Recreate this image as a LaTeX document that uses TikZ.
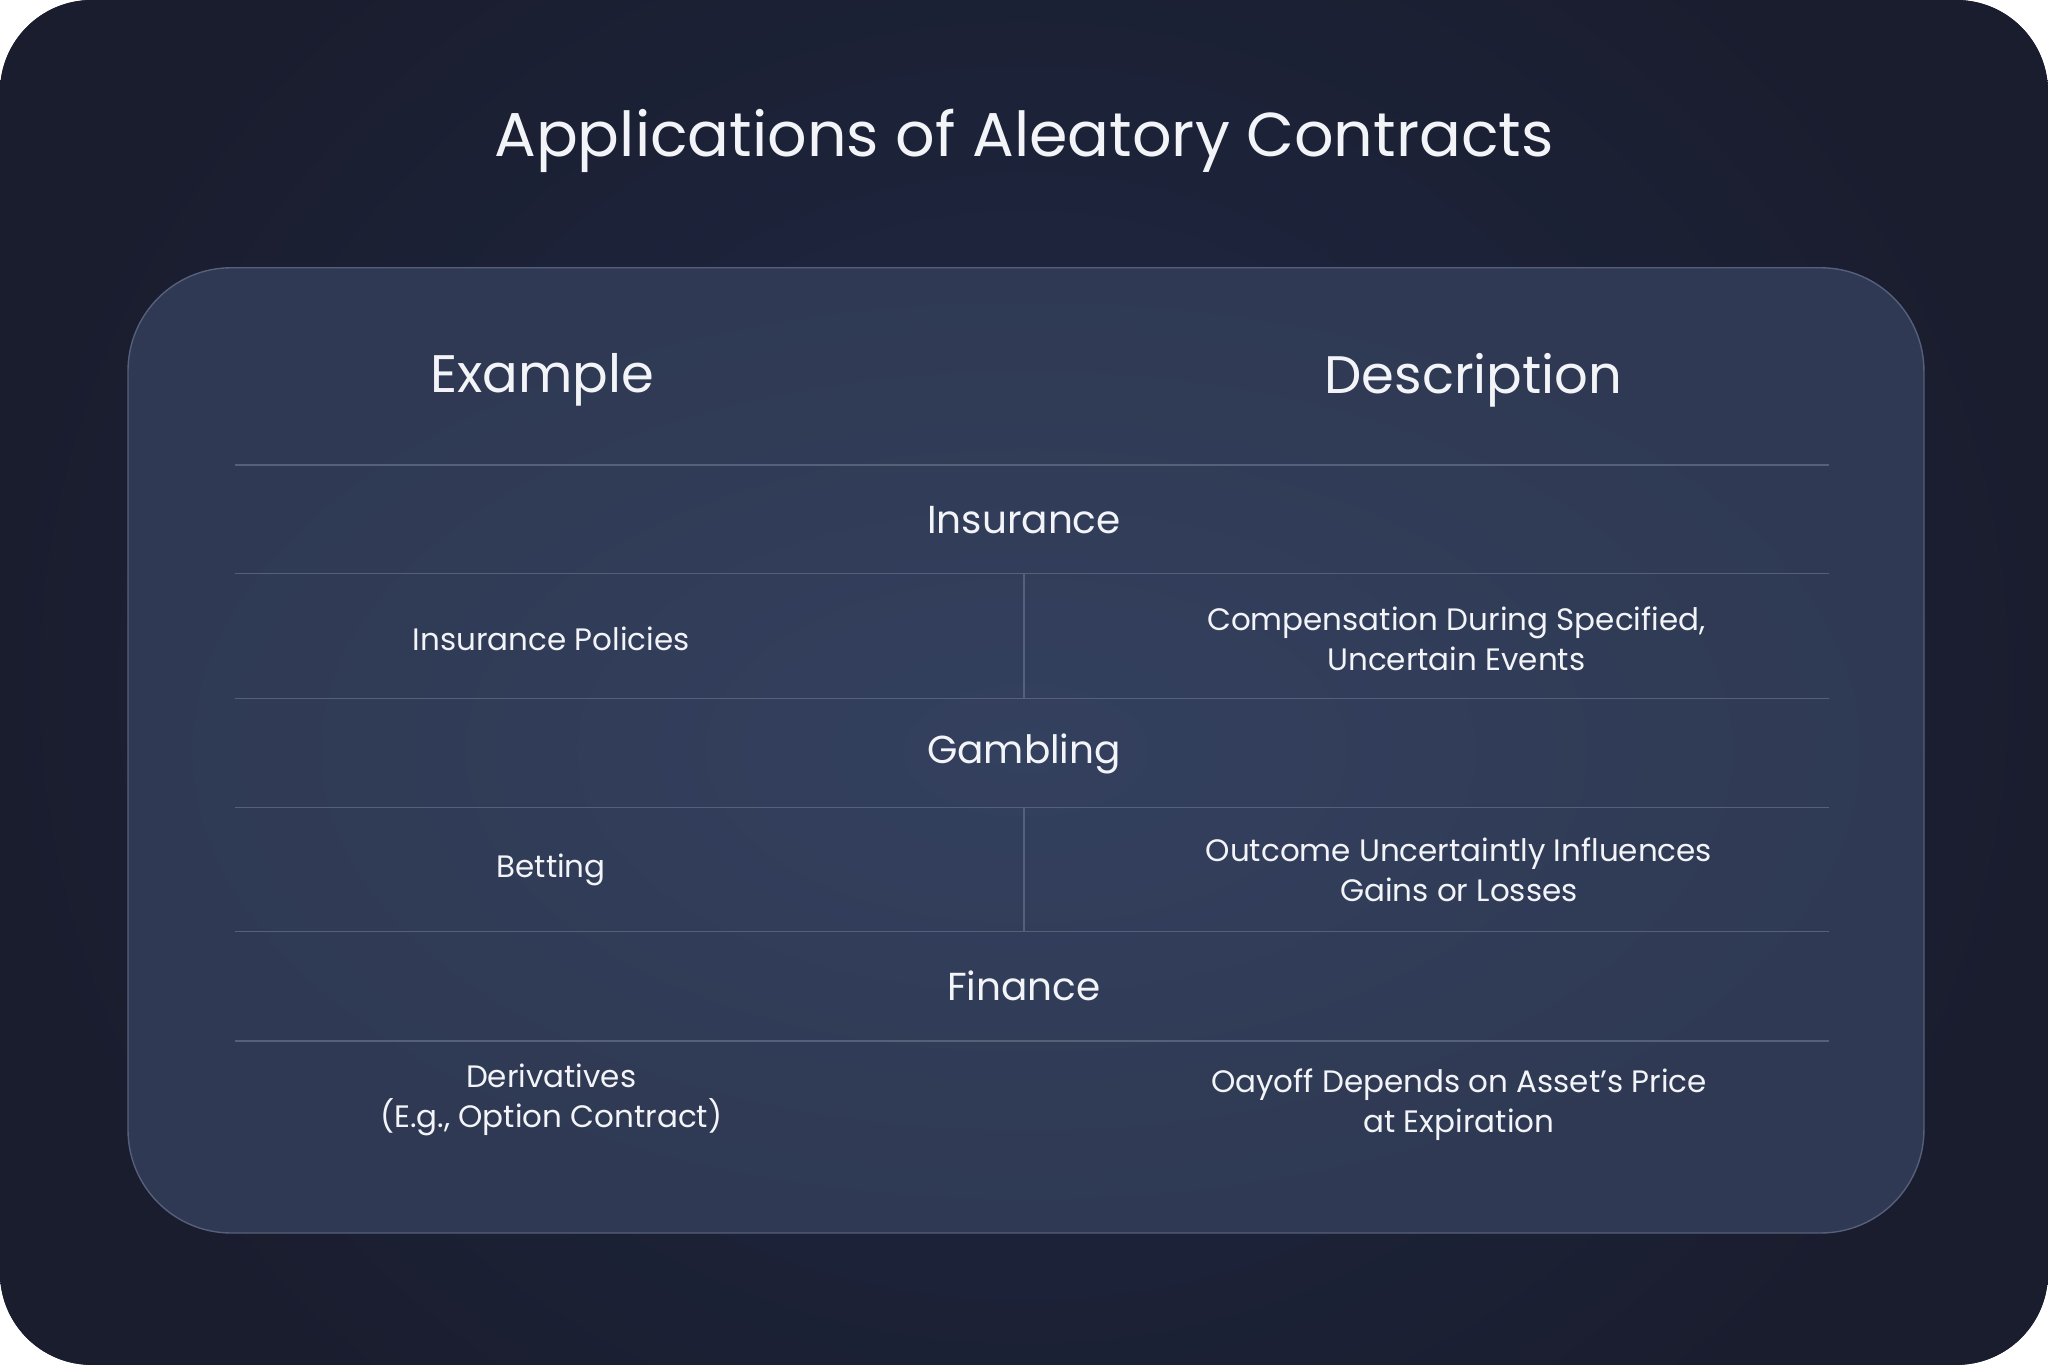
\documentclass[tikz,border=0pt]{standalone}
\usepackage{fontspec}
\setmainfont{Poppins}
\definecolor{bgout}{HTML}{1A1D2E}
\definecolor{bgin}{HTML}{1F2A47}
\definecolor{card}{HTML}{2F3953}
\definecolor{cardin}{HTML}{33405E}
\definecolor{rule}{HTML}{56607A}
\definecolor{txt}{HTML}{F2F4F8}
\begin{document}
\begin{tikzpicture}[x=0.02cm,y=-0.02cm,
  title/.style={text=txt,font=\fontsize{27}{32}\selectfont\mdseries},
  head/.style={text=txt,font=\fontsize{23}{28}\selectfont\mdseries},
  sect/.style={text=txt,font=\fontsize{17}{21}\selectfont\mdseries},
  cell/.style={text=txt,font=\fontsize{13.5}{17.5}\selectfont,align=center},
  hl/.style={draw=rule,line width=0.6pt}]
\useasboundingbox (0,0) rectangle (1568,1045);
\fill[bgout,rounded corners=40] (0,0) rectangle (1568,1045);
\begin{scope}
\clip[rounded corners=40] (0,0) rectangle (1568,1045);
\shade[inner color=bgin,outer color=bgout] (0,-200) rectangle (1568,1245);
\end{scope}
\shade[rounded corners=45,inner color=cardin,outer color=card,draw=rule,line width=0.6pt] (98,205) rectangle (1473,944);
\node[title] (t) at (784,108) {Applications of Aleatory Contracts};
\node[head] (h1) at (415,291) {Example};
\node[head] (h2) at (1128,291) {Description};
\foreach \y/\n in {356/a,439/b,535/c,618/d,713/e,797/f}
  {\coordinate (l\n) at (180,\y); \coordinate (r\n) at (1400,\y); \draw[hl] (l\n) -- (r\n);}
\coordinate (v1) at (784,439); \coordinate (v2) at (784,535);
\coordinate (v3) at (784,618); \coordinate (v4) at (784,713);
\draw[hl] (v1) -- (v2); \draw[hl] (v3) -- (v4);
\node[sect] (s1) at (784,398) {Insurance};
\node[sect] (s2) at (784,577) {Gambling};
\node[sect] (s3) at (784,755) {Finance};
\node[cell] (c1) at (422,489) {Insurance Policies};
\node[cell] (d1) at (1115,489) {Compensation During Specified,\\Uncertain Events};
\node[cell] (c2) at (422,666) {Betting};
\node[cell] (d2) at (1117,666) {Outcome Uncertaintly Influences\\Gains or Losses};
\node[cell] (c3) at (422,842) {Derivatives\\(E.g., Option Contract)};
\node[cell] (d3) at (1117,846) {Oayoff Depends on Asset’s Price\\at Expiration};
\end{tikzpicture}
\end{document}
